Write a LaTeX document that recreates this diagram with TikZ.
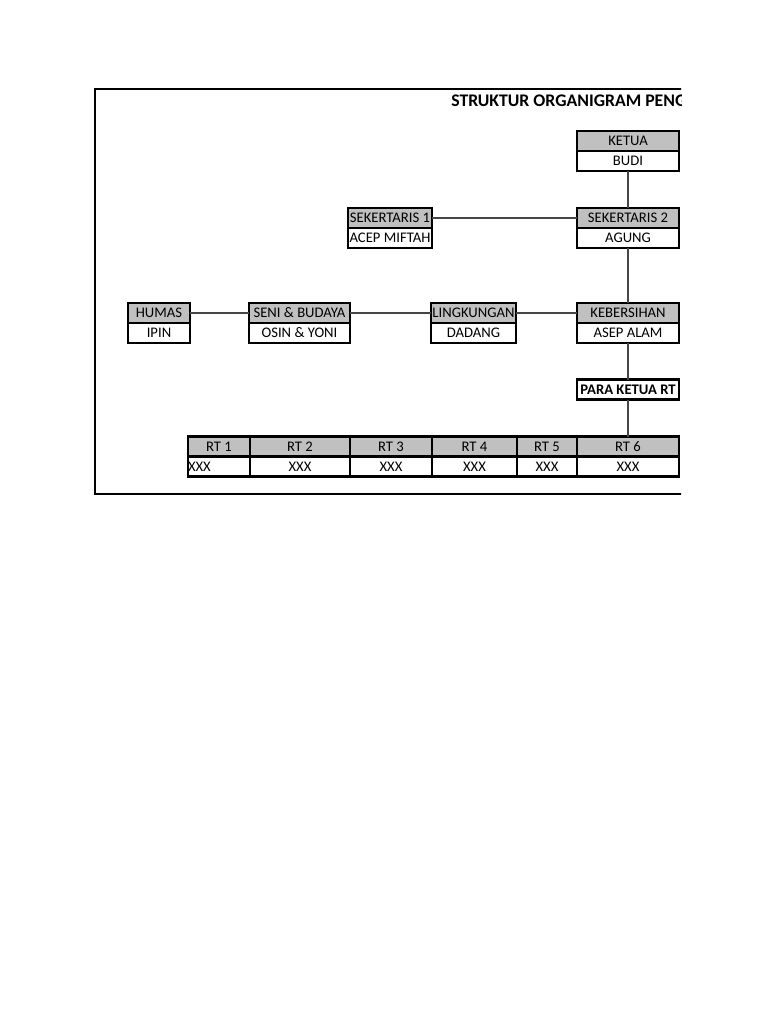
\documentclass[tikz,border=0pt]{standalone}
\usepackage{fontspec}
\setmainfont{Carlito}
\usetikzlibrary{positioning}
\definecolor{headgray}{RGB}{192,192,192}
\definecolor{linkgray}{RGB}{70,70,70}
\tikzset{
  head/.style={draw=black, line width=1.7pt, fill=headgray, inner sep=0pt, outer sep=0pt, minimum height=15pt, font=\fontsize{11}{13}\selectfont},
  cell/.style={head, fill=white},
  boxw/.style={minimum width=#1*0.75pt},
  link/.style={draw=linkgray, line width=0.8pt},
}

\begin{document}
\begin{tikzpicture}[x=0.75pt,y=-0.75pt]
\useasboundingbox (0,0) rectangle (768,1024);
\begin{scope}
\clip (0,0) rectangle (681,1024);
\draw[line width=1.6pt] (95,89) rectangle (720,494);
\node[font=\fontsize{13.3}{15}\selectfont\bfseries, anchor=west, inner sep=0pt] (title) at (451,101) {STRUKTUR ORGANIGRAM PENG};

% pimpinan
\node[head,boxw=102] (ketua) at (628,141) {KETUA};
\node[cell,boxw=102,below=0pt of ketua] (budi) {BUDI};
\node[head,boxw=102] (sekB) at (628,218) {SEKERTARIS 2};
\node[cell,boxw=102,below=0pt of sekB] (agung) {AGUNG};
\node[head,boxw=84] (sekA) at (390,218) {SEKERTARIS 1};
\node[cell,boxw=84,below=0pt of sekA] (acep) {ACEP MIFTAH};

% seksi
\node[head,boxw=62] (humas) at (159,313) {HUMAS};
\node[cell,boxw=62,below=0pt of humas] (ipin) {IPIN};
\node[head,boxw=101] (seni) at (299.5,313) {SENI \& BUDAYA};
\node[cell,boxw=101,below=0pt of seni] (osin) {OSIN \& YONI};
\node[head,boxw=85] (lingk) at (473.5,313) {LINGKUNGAN};
\node[cell,boxw=85,below=0pt of lingk] (dadang) {DADANG};
\node[head,boxw=102] (keber) at (628,313) {KEBERSIHAN};
\node[cell,boxw=102,below=0pt of keber] (asep) {ASEP ALAM};

\node[cell,boxw=102,font=\fontsize{11}{13}\selectfont\bfseries] (para) at (628,389.5) {PARA KETUA RT};

% rt
\node[head,boxw=62] (rt1) at (219,446.5) {RT 1};
\node[cell,boxw=62,text width=62*0.75pt,align=left,below=0pt of rt1] (xa) {XXX};
\node[head,boxw=100] (rt2) at (300,446.5) {RT 2};
\node[cell,boxw=100,below=0pt of rt2] (xb) {XXX};
\node[head,boxw=82] (rt3) at (391,446.5) {RT 3};
\node[cell,boxw=82,below=0pt of rt3] (xc) {XXX};
\node[head,boxw=85] (rt4) at (474.5,446.5) {RT 4};
\node[cell,boxw=85,below=0pt of rt4] (xd) {XXX};
\node[head,boxw=60] (rt5) at (547,446.5) {RT 5};
\node[cell,boxw=60,below=0pt of rt5] (xe) {XXX};
\node[head,boxw=102] (rt6) at (628,446.5) {RT 6};
\node[cell,boxw=102,below=0pt of rt6] (xf) {XXX};

% garis
\draw[link] (budi.south) -- (sekB.north);
\draw[link] (sekA.east) -- (sekB.west);
\draw[link] (agung.south) -- (keber.north);
\draw[link] (humas.east) -- (seni.west);
\draw[link] (seni.east) -- (lingk.west);
\draw[link] (lingk.east) -- (keber.west);
\draw[link] (asep.south) -- (para.north);
\draw[link] (para.south) -- (rt6.north);
\end{scope}
\end{tikzpicture}
\end{document}
